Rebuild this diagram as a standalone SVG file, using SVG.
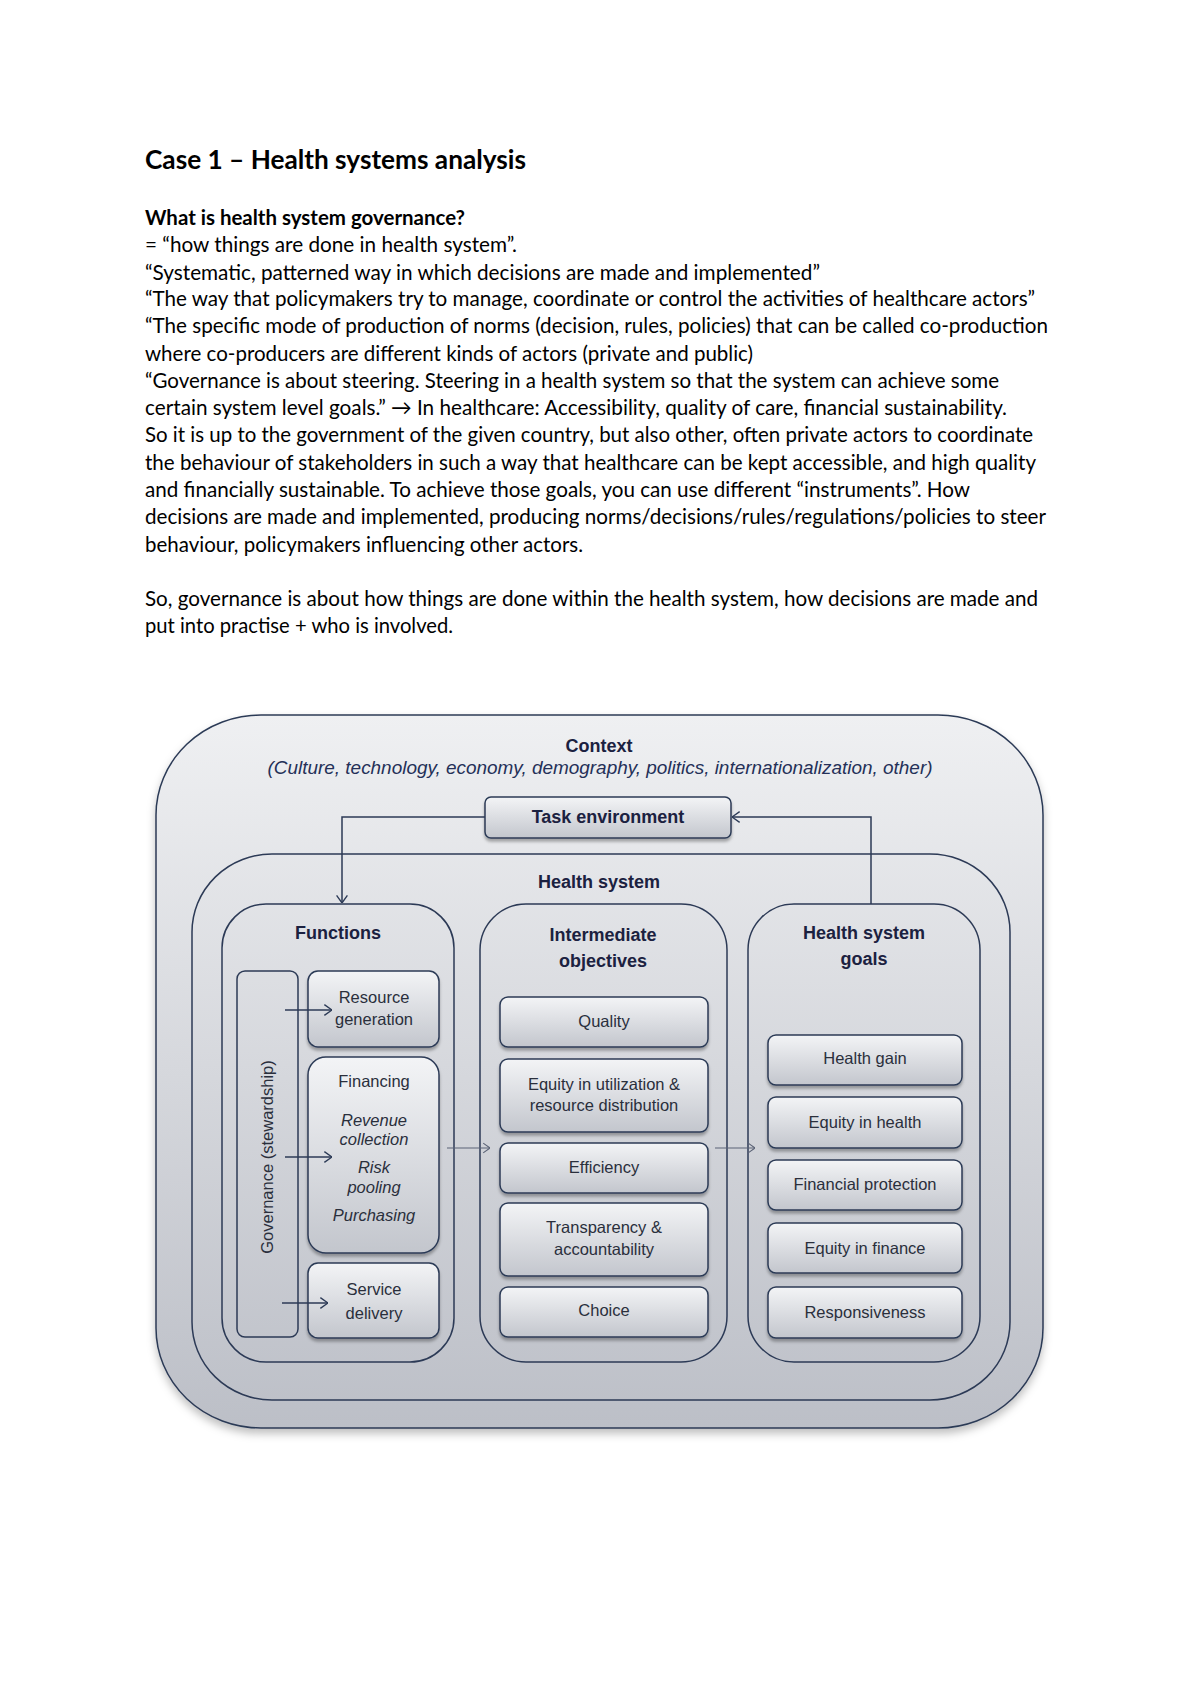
<svg xmlns="http://www.w3.org/2000/svg" width="1200" height="1698" viewBox="0 0 1200 1698">
<style>
.body{font-family:Lato,"Liberation Sans",sans-serif;font-size:21px;fill:#000}
.bold{font-weight:bold}
.title{font-size:26px}
.dh{font-family:"Liberation Sans",Arial,sans-serif;font-size:18px;font-weight:bold;fill:#1b2140;text-anchor:middle}
.dt{font-family:"Liberation Sans",Arial,sans-serif;font-size:16.5px;fill:#2a2f3c;text-anchor:middle}
.ctx{font-family:"Liberation Sans",Arial,sans-serif;font-size:18px;font-style:italic;fill:#243058;text-anchor:middle}
.it{font-style:italic}
.cont{fill:url(#gCont);stroke:#2c3a56;stroke-width:1.5}
.box{fill:url(#gBox);stroke:#2c3a56;stroke-width:1.5;filter:url(#sh)}
.conn{fill:none;stroke:#2c3a56;stroke-width:1.5}
.thin{fill:none;stroke:#5b6376;stroke-width:1.1}
</style>
<defs>
<linearGradient id="gCont" gradientUnits="userSpaceOnUse" x1="0" y1="715" x2="0" y2="1428">
<stop offset="0" stop-color="#eff0f2"/><stop offset="1" stop-color="#bcbfc7"/>
</linearGradient>
<linearGradient id="gBox" x1="0" y1="0" x2="0" y2="1">
<stop offset="0" stop-color="#f3f4f6"/><stop offset="1" stop-color="#c3c6cd"/>
</linearGradient>
<filter id="sh" x="-10%" y="-10%" width="120%" height="140%">
<feDropShadow dx="0" dy="3" stdDeviation="1.8" flood-color="#000" flood-opacity="0.3"/>
</filter>
<filter id="shBig" x="-5%" y="-5%" width="110%" height="115%">
<feDropShadow dx="0" dy="5" stdDeviation="4" flood-color="#000" flood-opacity="0.25"/>
</filter>
<marker id="arr" viewBox="0 0 10 14" refX="9.5" refY="7" markerWidth="9" markerHeight="13" markerUnits="userSpaceOnUse" orient="auto">
<path d="M1,1 L9.5,7 L1,13" fill="none" stroke="#2c3a56" stroke-width="1.5"/>
</marker>
<marker id="arrT" viewBox="0 0 10 14" refX="9.5" refY="7" markerWidth="8" markerHeight="12" markerUnits="userSpaceOnUse" orient="auto">
<path d="M1,1 L9.5,7 L1,13" fill="none" stroke="#5b6376" stroke-width="1.3"/>
</marker>
</defs>
<rect width="1200" height="1698" fill="#fff"/>

<g id="text">
<text class="body bold title" x="145" y="169" textLength="381" lengthAdjust="spacingAndGlyphs">Case 1 – Health systems analysis</text>
<text class="body bold" x="145" y="225" textLength="320" lengthAdjust="spacingAndGlyphs">What is health system governance?</text>
<text class="body" x="145" y="252" textLength="372" lengthAdjust="spacingAndGlyphs">= “how things are done in health system”.</text>
<text class="body" x="145" y="280" textLength="675" lengthAdjust="spacingAndGlyphs">“Systematic, patterned way in which decisions are made and implemented”</text>
<text class="body" x="145" y="306" textLength="890" lengthAdjust="spacingAndGlyphs">“The way that policymakers try to manage, coordinate or control the activities of healthcare actors”</text>
<text class="body" x="145" y="333" textLength="903" lengthAdjust="spacingAndGlyphs">“The specific mode of production of norms (decision, rules, policies) that can be called co-production</text>
<text class="body" x="145" y="360.5" textLength="608" lengthAdjust="spacingAndGlyphs">where co-producers are different kinds of actors (private and public)</text>
<text class="body" x="145" y="388" textLength="854" lengthAdjust="spacingAndGlyphs">“Governance is about steering. Steering in a health system so that the system can achieve some</text>
<text class="body" x="145" y="415" textLength="862" lengthAdjust="spacingAndGlyphs">certain system level goals.” → In healthcare: Accessibility, quality of care, financial sustainability.</text>
<text class="body" x="145" y="442" textLength="888" lengthAdjust="spacingAndGlyphs">So it is up to the government of the given country, but also other, often private actors to coordinate</text>
<text class="body" x="145" y="469.5" textLength="891" lengthAdjust="spacingAndGlyphs">the behaviour of stakeholders in such a way that healthcare can be kept accessible, and high quality</text>
<text class="body" x="145" y="497" textLength="825" lengthAdjust="spacingAndGlyphs">and financially sustainable. To achieve those goals, you can use different “instruments”. How</text>
<text class="body" x="145" y="524" textLength="901" lengthAdjust="spacingAndGlyphs">decisions are made and implemented, producing norms/decisions/rules/regulations/policies to steer</text>
<text class="body" x="145" y="551.5" textLength="438" lengthAdjust="spacingAndGlyphs">behaviour, policymakers influencing other actors.</text>
<text class="body" x="145" y="606" textLength="893" lengthAdjust="spacingAndGlyphs">So, governance is about how things are done within the health system, how decisions are made and</text>
<text class="body" x="145" y="633" textLength="308" lengthAdjust="spacingAndGlyphs">put into practise + who is involved.</text>
</g>

<g id="context">
<rect class="cont" x="156" y="715" width="887" height="713" rx="105" ry="100" filter="url(#shBig)"/>
<text class="dh" x="599" y="752">Context</text>
<text class="ctx" x="600" y="774" textLength="665" lengthAdjust="spacingAndGlyphs">(Culture, technology, economy, demography, politics, internationalization, other)</text>
</g>

<g id="task-environment">
<rect class="box" x="485" y="797" width="246" height="41" rx="6"/>
<text class="dh" x="608" y="823">Task environment</text>
</g>

<g id="health-system">
<rect class="cont" x="192" y="854" width="818" height="546" rx="80" ry="78"/>
<text class="dh" x="599" y="888">Health system</text>
</g>

<g id="functions">
<rect class="cont" x="222" y="904" width="232" height="458" rx="44"/>
<text class="dh" x="338" y="939">Functions</text>
</g>

<g id="governance">
<rect class="cont" x="237" y="971" width="61" height="366" rx="8"/>
<text class="dt" transform="translate(267,1157) rotate(-90)" x="0" y="6">Governance (stewardship)</text>
</g>

<g id="resource-generation">
<rect class="box" x="308" y="971" width="131" height="76" rx="10"/>
<text class="dt" x="374" y="1003">Resource</text>
<text class="dt" x="374" y="1025">generation</text>
</g>

<g id="financing">
<rect class="box" x="308" y="1057" width="131" height="196" rx="18"/>
<text class="dt" x="374" y="1087">Financing</text>
<text class="dt it" x="374" y="1126">Revenue</text>
<text class="dt it" x="374" y="1145">collection</text>
<text class="dt it" x="374" y="1173">Risk</text>
<text class="dt it" x="374" y="1193">pooling</text>
<text class="dt it" x="374" y="1221">Purchasing</text>
</g>

<g id="service-delivery">
<rect class="box" x="308" y="1263" width="131" height="75" rx="10"/>
<text class="dt" x="374" y="1295">Service</text>
<text class="dt" x="374" y="1319">delivery</text>
</g>

<g id="intermediate-objectives">
<rect class="cont" x="480" y="904" width="247" height="458" rx="46"/>
<text class="dh" x="603" y="941">Intermediate</text>
<text class="dh" x="603" y="967">objectives</text>
</g>

<g id="quality">
<rect class="box" x="500" y="997" width="208" height="50" rx="8"/>
<text class="dt" x="604" y="1027">Quality</text>
</g>
<g id="equity-utilization">
<rect class="box" x="500" y="1059" width="208" height="73" rx="8"/>
<text class="dt" x="604" y="1090">Equity in utilization &amp;</text>
<text class="dt" x="604" y="1111">resource distribution</text>
</g>
<g id="efficiency">
<rect class="box" x="500" y="1143" width="208" height="50" rx="8"/>
<text class="dt" x="604" y="1173">Efficiency</text>
</g>
<g id="transparency">
<rect class="box" x="500" y="1203" width="208" height="73" rx="8"/>
<text class="dt" x="604" y="1233">Transparency &amp;</text>
<text class="dt" x="604" y="1255">accountability</text>
</g>
<g id="choice">
<rect class="box" x="500" y="1287" width="208" height="50" rx="8"/>
<text class="dt" x="604" y="1316">Choice</text>
</g>

<g id="health-system-goals">
<rect class="cont" x="748" y="904" width="232" height="458" rx="46"/>
<text class="dh" x="864" y="939">Health system</text>
<text class="dh" x="864" y="965">goals</text>
</g>

<g id="health-gain">
<rect class="box" x="768" y="1035" width="194" height="50" rx="8"/>
<text class="dt" x="865" y="1064">Health gain</text>
</g>
<g id="equity-health">
<rect class="box" x="768" y="1097" width="194" height="51" rx="8"/>
<text class="dt" x="865" y="1128">Equity in health</text>
</g>
<g id="financial-protection">
<rect class="box" x="768" y="1160" width="194" height="50" rx="8"/>
<text class="dt" x="865" y="1190">Financial protection</text>
</g>
<g id="equity-finance">
<rect class="box" x="768" y="1223" width="194" height="50" rx="8"/>
<text class="dt" x="865" y="1254">Equity in finance</text>
</g>
<g id="responsiveness">
<rect class="box" x="768" y="1287" width="194" height="51" rx="8"/>
<text class="dt" x="865" y="1318">Responsiveness</text>
</g>

<g id="connectors">
<polyline class="conn" points="485,817 342,817 342,903" marker-end="url(#arr)"/>
<polyline class="conn" points="871,904 871,817 732,817" marker-end="url(#arr)"/>
<line class="conn" x1="285" y1="1010" x2="332" y2="1010" marker-end="url(#arr)"/>
<line class="conn" x1="285" y1="1157" x2="332" y2="1157" marker-end="url(#arr)"/>
<line class="conn" x1="282" y1="1303" x2="328" y2="1303" marker-end="url(#arr)"/>
<line class="thin" x1="447" y1="1148" x2="490" y2="1148" marker-end="url(#arrT)"/>
<line class="thin" x1="715" y1="1148" x2="755" y2="1148" marker-end="url(#arrT)"/>
</g>
</svg>
